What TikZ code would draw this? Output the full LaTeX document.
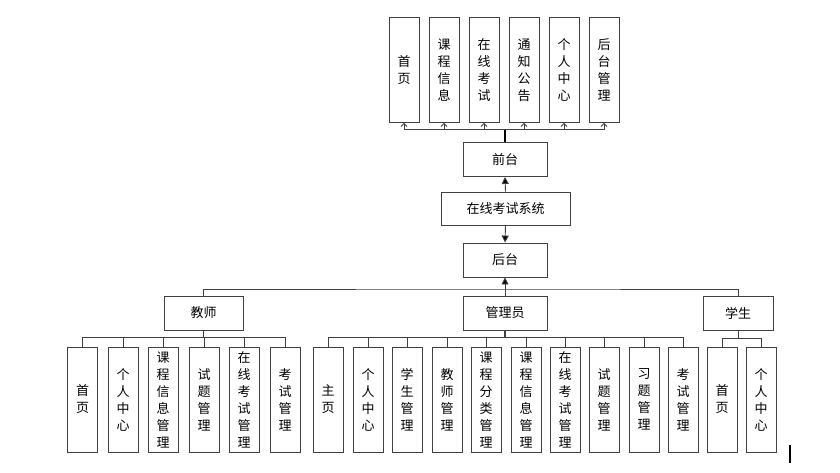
\documentclass[tikz,border=0pt]{standalone}
\usepackage{fontspec}
\setmainfont{Noto Sans CJK SC}
\usetikzlibrary{arrows.meta}
\begin{document}
\begin{tikzpicture}[x=1pt,y=-1pt,
  box/.style={draw=black!75,line width=0.9pt,fill=white,inner sep=0pt,font=\fontsize{13}{17}\selectfont,align=center},
  vbox/.style={box,minimum width=30pt,minimum height=105pt},
  hbox/.style={box,minimum height=34pt},
  ln/.style={draw=black!75,line width=0.9pt},
  fa/.style={ln,-{Triangle[length=7pt,width=7pt,fill=black]}},
  oa/.style={ln,-{Straight Barb[length=3pt,width=6pt]}}]
\useasboundingbox (0,0) rectangle (840,472);
% top
\foreach \i/\x/\t in {1/404/首\\页,2/444/课\\程\\信\\息,3/484/在\\线\\考\\试,4/524/通\\知\\公\\告,5/564/个\\人\\中\\心,6/604/后\\台\\管\\理}
  \node[vbox] (t\i) at (\x,70) {\t};
\node[hbox,minimum width=84pt] (qt) at (505,159.5) {前台};
\node[hbox,minimum width=129pt,minimum height=33pt] (sys) at (505.5,208.5) {在线考试系统};
\node[hbox,minimum width=84pt] (ht) at (505,260) {后台};
\coordinate (tb) at (505,129);
\draw[ln,line width=1.8pt,black] (qt.north) -- (tb);
\foreach \i in {1,...,6} \draw[oa] (tb) -| (t\i.south);
\draw[fa] (sys.north) -- (qt.south);
\draw[fa] (sys.south) -- (ht.north);
% roles
\node[hbox,minimum width=79pt] (js) at (203.5,313) {教师};
\node[hbox,minimum width=84pt] (gl) at (505,313) {管理员};
\node[hbox,minimum width=70pt] (xs) at (738,313) {学生};
\coordinate (mb) at (505,289);
\draw[ln] (js.north) |- (mb) -| (xs.north);
\draw[fa] (gl.north) -- (ht.south);
% teacher
\foreach \i/\x/\t in {1/82.5/首\\页,2/123/个\\人\\中\\心,3/163/课\\程\\信\\息\\管\\理,4/204/试\\题\\管\\理,5/244/在\\线\\考\\试\\管\\理,6/285/考\\试\\管\\理}
  \node[vbox] (a\i) at (\x,399.5) {\t};
\draw[ln] (js.south) -- (js.south |- 0,337);
\foreach \i in {1,...,6} \draw[ln] (a\i.north) -- (a\i.north |- 0,337);
\draw[ln] (a1.north |- 0,337) -- (a6.north |- 0,337);
% admin
\foreach \i/\x/\t in {1/328/主\\页,2/368/个\\人\\中\\心,3/407/学\\生\\管\\理,4/447/教\\师\\管\\理,5/486/课\\程\\分\\类\\管\\理,6/526/课\\程\\信\\息\\管\\理,7/565/在\\线\\考\\试\\管\\理,8/604/试\\题\\管\\理,9/644/习\\题\\管\\理,10/683/考\\试\\管\\理}
  \node[vbox] (b\i) at (\x,399.5) {\t};
\draw[ln,line width=1.4pt] (gl.south) -- (505,337);
\foreach \i in {1,...,10} \draw[ln] (b\i.north) -- (b\i.north |- 0,337);
\draw[ln] (b1.north |- 0,337) -- (b10.north |- 0,337);
% student
\node[vbox] (c1) at (722,399.5) {首\\页};
\node[vbox] (c2) at (761,399.5) {个\\人\\中\\心};
\draw[ln] (xs.south) -- (738,338);
\draw[ln] (c1.north) |- (c2.north |- 0,338) -- (c2.north);
% cursor
\coordinate (k1) at (790,445); \coordinate (k2) at (790,463);
\draw[line width=1.5pt] (k1) -- (k2);
\end{tikzpicture}
\end{document}
